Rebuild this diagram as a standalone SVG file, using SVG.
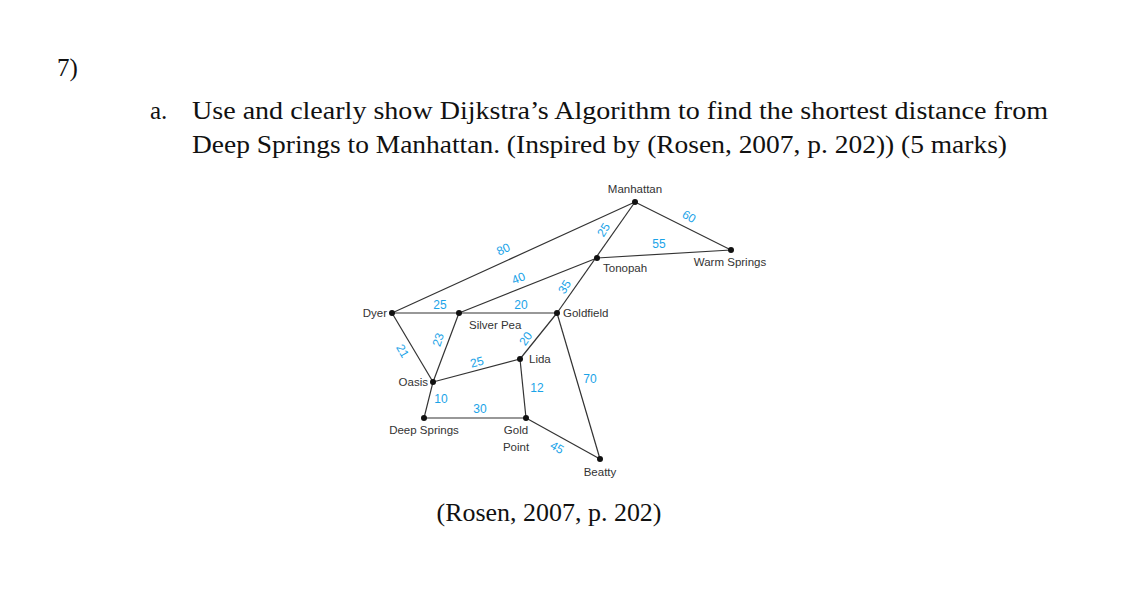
<svg xmlns="http://www.w3.org/2000/svg" width="1125" height="611" viewBox="0 0 1125 611">
<style>
.t{font-family:"Liberation Serif",serif;font-size:25px;fill:#111}
.n{font-family:"Liberation Sans",sans-serif;font-size:11.5px;fill:#333}
.w{font-family:"Liberation Sans",sans-serif;font-size:12px;fill:#1aa3e8}
line{stroke:#333;stroke-width:1.2}
circle{fill:#111}
</style>
<rect width="1125" height="611" fill="#fff"/>
<text class="t" x="57" y="76">7)</text>
<text class="t" x="150" y="119">a.</text>
<text class="t" x="192" y="119" textLength="856" lengthAdjust="spacingAndGlyphs">Use and clearly show Dijkstra’s Algorithm to find the shortest distance from</text>
<text class="t" x="192" y="153" textLength="815" lengthAdjust="spacingAndGlyphs">Deep Springs to Manhattan. (Inspired by (Rosen, 2007, p. 202)) (5 marks)</text>
<g id="edges">
<line x1="392" y1="313" x2="635" y2="202"/>
<line x1="459" y1="313" x2="597" y2="258"/>
<line x1="392" y1="313" x2="557" y2="313"/>
<line x1="557" y1="313" x2="635" y2="202"/>
<line x1="635" y1="202" x2="731" y2="250"/>
<line x1="597" y1="258" x2="731" y2="250"/>
<line x1="392" y1="313" x2="433" y2="382"/>
<line x1="459" y1="313" x2="433" y2="382"/>
<line x1="433" y1="382" x2="520" y2="359"/>
<line x1="520" y1="359" x2="557" y2="313"/>
<line x1="520" y1="359" x2="526" y2="418"/>
<line x1="433" y1="382" x2="424" y2="418"/>
<line x1="424" y1="418" x2="526" y2="418"/>
<line x1="526" y1="418" x2="600" y2="459"/>
<line x1="557" y1="313" x2="600" y2="459"/>
</g>
<g id="weights">
<text class="w" transform="translate(505,253) rotate(-25)" text-anchor="middle">80</text>
<text class="w" transform="translate(520,282) rotate(-22)" text-anchor="middle">40</text>
<text class="w" x="440" y="309" text-anchor="middle">25</text>
<text class="w" x="521" y="309" text-anchor="middle">20</text>
<text class="w" transform="translate(568,289) rotate(-58)" text-anchor="middle">35</text>
<text class="w" transform="translate(607,232) rotate(-58)" text-anchor="middle">25</text>
<text class="w" transform="translate(687,220) rotate(30)" text-anchor="middle">60</text>
<text class="w" x="659" y="248" text-anchor="middle">55</text>
<text class="w" transform="translate(442,341) rotate(-72)" text-anchor="middle">23</text>
<text class="w" transform="translate(399,353) rotate(60)" text-anchor="middle">21</text>
<text class="w" transform="translate(478,366) rotate(-15)" text-anchor="middle">25</text>
<text class="w" transform="translate(529,341) rotate(-55)" text-anchor="middle">20</text>
<text class="w" x="537" y="392" text-anchor="middle">12</text>
<text class="w" x="590" y="383" text-anchor="middle">70</text>
<text class="w" x="441" y="403" text-anchor="middle">10</text>
<text class="w" x="480" y="413" text-anchor="middle">30</text>
<text class="w" transform="translate(555,451) rotate(30)" text-anchor="middle">45</text>
</g>
<g id="Dyer"><circle cx="392" cy="313" r="3"/><text class="n" x="387" y="317" text-anchor="end">Dyer</text></g>
<g id="SilverPea"><circle cx="459" cy="313" r="3"/><text class="n" x="469" y="329">Silver Pea</text></g>
<g id="Goldfield"><circle cx="557" cy="313" r="3"/><text class="n" x="563" y="317">Goldfield</text></g>
<g id="Tonopah"><circle cx="597" cy="258" r="3"/><text class="n" x="603" y="272">Tonopah</text></g>
<g id="Manhattan"><circle cx="635" cy="202" r="3"/><text class="n" x="635" y="193" text-anchor="middle">Manhattan</text></g>
<g id="WarmSprings"><circle cx="731" cy="250" r="3"/><text class="n" x="730" y="266" text-anchor="middle">Warm Springs</text></g>
<g id="Lida"><circle cx="520" cy="359" r="3"/><text class="n" x="529" y="363">Lida</text></g>
<g id="Oasis"><circle cx="433" cy="382" r="3"/><text class="n" x="428" y="386" text-anchor="end">Oasis</text></g>
<g id="DeepSprings"><circle cx="424" cy="418" r="3"/><text class="n" x="424" y="434" text-anchor="middle">Deep Springs</text></g>
<g id="GoldPoint"><circle cx="526" cy="418" r="3"/><text class="n" x="516" y="434" text-anchor="middle">Gold</text><text class="n" x="516" y="451" text-anchor="middle">Point</text></g>
<g id="Beatty"><circle cx="600" cy="459" r="3"/><text class="n" x="600" y="476" text-anchor="middle">Beatty</text></g>
<text class="t" x="549" y="521" text-anchor="middle" textLength="225" lengthAdjust="spacingAndGlyphs">(Rosen, 2007, p. 202)</text>
</svg>
